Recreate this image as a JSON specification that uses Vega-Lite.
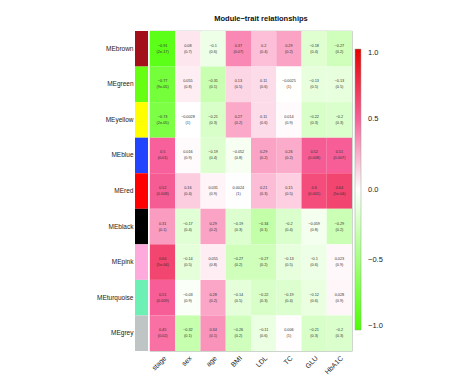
{
  "$schema": "https://vega.github.io/schema/vega-lite/v6.json",
  "padding": {"left": 96, "top": 14, "right": 5, "bottom": 5},
  "background": "white",
  "config": {"font": "Liberation Sans", "view": {"stroke": null}},
  "datasets": {
    "mods": [
      {"m": "MEbrown"}, {"m": "MEgreen"}, {"m": "MEyellow"}, {"m": "MEblue"}, {"m": "MEred"},
      {"m": "MEblack"}, {"m": "MEpink"}, {"m": "MEturquoise"}, {"m": "MEgrey"}
    ],
    "cells": [
      {"m": "MEbrown", "t": "stage", "r": -0.91, "p": "(2e-17)"},
      {"m": "MEbrown", "t": "sex", "r": 0.08, "p": "(0.7)"},
      {"m": "MEbrown", "t": "age", "r": -0.1, "p": "(0.6)"},
      {"m": "MEbrown", "t": "BMI", "r": 0.37, "p": "(0.07)"},
      {"m": "MEbrown", "t": "LDL", "r": 0.2, "p": "(0.4)"},
      {"m": "MEbrown", "t": "TC", "r": 0.29, "p": "(0.2)"},
      {"m": "MEbrown", "t": "GLU", "r": -0.18, "p": "(0.4)"},
      {"m": "MEbrown", "t": "HbA1C", "r": -0.27, "p": "(0.2)"},
      {"m": "MEgreen", "t": "stage", "r": -0.77, "p": "(9e-05)"},
      {"m": "MEgreen", "t": "sex", "r": 0.055, "p": "(0.8)"},
      {"m": "MEgreen", "t": "age", "r": -0.31, "p": "(0.1)"},
      {"m": "MEgreen", "t": "BMI", "r": 0.13, "p": "(0.5)"},
      {"m": "MEgreen", "t": "LDL", "r": 0.11, "p": "(0.6)"},
      {"m": "MEgreen", "t": "TC", "r": -0.0025, "p": "(1)"},
      {"m": "MEgreen", "t": "GLU", "r": -0.13, "p": "(0.5)"},
      {"m": "MEgreen", "t": "HbA1C", "r": -0.13, "p": "(0.5)"},
      {"m": "MEyellow", "t": "stage", "r": -0.73, "p": "(2e-05)"},
      {"m": "MEyellow", "t": "sex", "r": -0.0028, "p": "(1)"},
      {"m": "MEyellow", "t": "age", "r": -0.21, "p": "(0.3)"},
      {"m": "MEyellow", "t": "BMI", "r": 0.27, "p": "(0.2)"},
      {"m": "MEyellow", "t": "LDL", "r": 0.11, "p": "(0.6)"},
      {"m": "MEyellow", "t": "TC", "r": 0.014, "p": "(0.9)"},
      {"m": "MEyellow", "t": "GLU", "r": -0.22, "p": "(0.3)"},
      {"m": "MEyellow", "t": "HbA1C", "r": -0.2, "p": "(0.3)"},
      {"m": "MEblue", "t": "stage", "r": 0.5, "p": "(0.01)"},
      {"m": "MEblue", "t": "sex", "r": 0.016, "p": "(0.9)"},
      {"m": "MEblue", "t": "age", "r": -0.19, "p": "(0.4)"},
      {"m": "MEblue", "t": "BMI", "r": -0.052, "p": "(0.8)"},
      {"m": "MEblue", "t": "LDL", "r": 0.29, "p": "(0.2)"},
      {"m": "MEblue", "t": "TC", "r": 0.26, "p": "(0.2)"},
      {"m": "MEblue", "t": "GLU", "r": 0.52, "p": "(0.008)"},
      {"m": "MEblue", "t": "HbA1C", "r": 0.51, "p": "(0.007)"},
      {"m": "MEred", "t": "stage", "r": 0.52, "p": "(0.008)"},
      {"m": "MEred", "t": "sex", "r": 0.16, "p": "(0.4)"},
      {"m": "MEred", "t": "age", "r": 0.031, "p": "(0.9)"},
      {"m": "MEred", "t": "BMI", "r": 0.0024, "p": "(1)"},
      {"m": "MEred", "t": "LDL", "r": 0.21, "p": "(0.3)"},
      {"m": "MEred", "t": "TC", "r": 0.15, "p": "(0.5)"},
      {"m": "MEred", "t": "GLU", "r": 0.6, "p": "(0.001)"},
      {"m": "MEred", "t": "HbA1C", "r": 0.64, "p": "(5e-04)"},
      {"m": "MEblack", "t": "stage", "r": 0.31, "p": "(0.1)"},
      {"m": "MEblack", "t": "sex", "r": -0.17, "p": "(0.4)"},
      {"m": "MEblack", "t": "age", "r": 0.29, "p": "(0.2)"},
      {"m": "MEblack", "t": "BMI", "r": -0.19, "p": "(0.3)"},
      {"m": "MEblack", "t": "LDL", "r": -0.34, "p": "(0.1)"},
      {"m": "MEblack", "t": "TC", "r": -0.2, "p": "(0.4)"},
      {"m": "MEblack", "t": "GLU", "r": -0.059, "p": "(0.8)"},
      {"m": "MEblack", "t": "HbA1C", "r": -0.29, "p": "(0.2)"},
      {"m": "MEpink", "t": "stage", "r": 0.64, "p": "(5e-04)"},
      {"m": "MEpink", "t": "sex", "r": -0.14, "p": "(0.5)"},
      {"m": "MEpink", "t": "age", "r": 0.055, "p": "(0.8)"},
      {"m": "MEpink", "t": "BMI", "r": -0.27, "p": "(0.2)"},
      {"m": "MEpink", "t": "LDL", "r": -0.27, "p": "(0.2)"},
      {"m": "MEpink", "t": "TC", "r": -0.13, "p": "(0.5)"},
      {"m": "MEpink", "t": "GLU", "r": -0.1, "p": "(0.6)"},
      {"m": "MEpink", "t": "HbA1C", "r": 0.023, "p": "(0.9)"},
      {"m": "MEturquoise", "t": "stage", "r": 0.51, "p": "(0.009)"},
      {"m": "MEturquoise", "t": "sex", "r": -0.03, "p": "(0.9)"},
      {"m": "MEturquoise", "t": "age", "r": 0.28, "p": "(0.2)"},
      {"m": "MEturquoise", "t": "BMI", "r": -0.14, "p": "(0.5)"},
      {"m": "MEturquoise", "t": "LDL", "r": -0.22, "p": "(0.3)"},
      {"m": "MEturquoise", "t": "TC", "r": -0.19, "p": "(0.4)"},
      {"m": "MEturquoise", "t": "GLU", "r": -0.12, "p": "(0.6)"},
      {"m": "MEturquoise", "t": "HbA1C", "r": 0.028, "p": "(0.9)"},
      {"m": "MEgrey", "t": "stage", "r": 0.45, "p": "(0.02)"},
      {"m": "MEgrey", "t": "sex", "r": -0.32, "p": "(0.1)"},
      {"m": "MEgrey", "t": "age", "r": 0.34, "p": "(0.1)"},
      {"m": "MEgrey", "t": "BMI", "r": -0.26, "p": "(0.2)"},
      {"m": "MEgrey", "t": "LDL", "r": -0.11, "p": "(0.6)"},
      {"m": "MEgrey", "t": "TC", "r": 0.006, "p": "(1)"},
      {"m": "MEgrey", "t": "GLU", "r": -0.21, "p": "(0.3)"},
      {"m": "MEgrey", "t": "HbA1C", "r": -0.2, "p": "(0.3)"}
    ]
  },
  "spacing": 1,
  "resolve": {"scale": {"color": "independent", "y": "shared"}, "legend": {"color": "independent"}},
  "hconcat": [
    {
      "width": 13,
      "height": 320,
      "data": {"name": "mods"},
      "mark": {"type": "rect"},
      "encoding": {
        "y": {
          "field": "m", "type": "nominal",
          "sort": ["MEbrown", "MEgreen", "MEyellow", "MEblue", "MEred", "MEblack", "MEpink", "MEturquoise", "MEgrey"],
          "scale": {"paddingInner": 0, "paddingOuter": 0},
          "axis": {"title": null, "ticks": false, "domain": false, "labelFontSize": 6.5, "labelPadding": 2, "labelColor": "#222"}
        },
        "color": {
          "field": "m", "type": "nominal", "legend": null,
          "scale": {
            "domain": ["MEbrown", "MEgreen", "MEyellow", "MEblue", "MEred", "MEblack", "MEpink", "MEturquoise", "MEgrey"],
            "range": ["#a3101a", "#66ff11", "#ffff00", "#2244ff", "#ff0000", "#000000", "#ffaadd", "#6cf0b4", "#bfc4c4"]
          }
        }
      }
    },
    {
      "width": 202,
      "height": 320,
      "title": {"text": "Module−trait relationships", "fontSize": 7.5, "fontWeight": "bold", "offset": 9, "dx": 10, "anchor": "middle", "color": "#111"},
      "view": {"stroke": "#9aaa9a", "strokeWidth": 0.7},
      "data": {"name": "cells"},
      "encoding": {
        "x": {
          "field": "t", "type": "nominal",
          "sort": ["stage", "sex", "age", "BMI", "LDL", "TC", "GLU", "HbA1C"],
          "scale": {"paddingInner": 0, "paddingOuter": 0},
          "axis": {"title": null, "ticks": false, "domain": false, "labelAngle": -45, "labelFontSize": 7, "labelPadding": 3, "labelColor": "#222"}
        },
        "y": {
          "field": "m", "type": "nominal",
          "sort": ["MEbrown", "MEgreen", "MEyellow", "MEblue", "MEred", "MEblack", "MEpink", "MEturquoise", "MEgrey"],
          "scale": {"paddingInner": 0, "paddingOuter": 0},
          "axis": null
        }
      },
      "layer": [
        {
          "mark": {"type": "rect"},
          "encoding": {
            "color": {
              "field": "r", "type": "quantitative",
              "scale": {"domain": [-1, 0, 0.5, 1], "range": ["#4cff00", "#ffffff", "#f7609a", "#e60000"], "interpolate": "rgb"},
              "legend": {
                "title": null, "orient": "none", "legendX": 205, "legendY": 18, "direction": "vertical",
                "gradientLength": 281, "gradientThickness": 6, "values": [-1, -0.5, 0, 0.5, 1],
                "labelFontSize": 7.5, "labelOffset": 7, "labelColor": "#222", "gradientStrokeColor": "#8a8", "gradientStrokeWidth": 0.5
              }
            }
          }
        },
        {
          "mark": {"type": "text", "fontSize": 3.8, "dy": -3, "color": "#333"},
          "encoding": {"text": {"field": "r", "type": "quantitative", "format": ".2~g"}}
        },
        {
          "mark": {"type": "text", "fontSize": 3.8, "dy": 3, "color": "#333"},
          "encoding": {"text": {"field": "p", "type": "nominal"}}
        }
      ]
    }
  ]
}
